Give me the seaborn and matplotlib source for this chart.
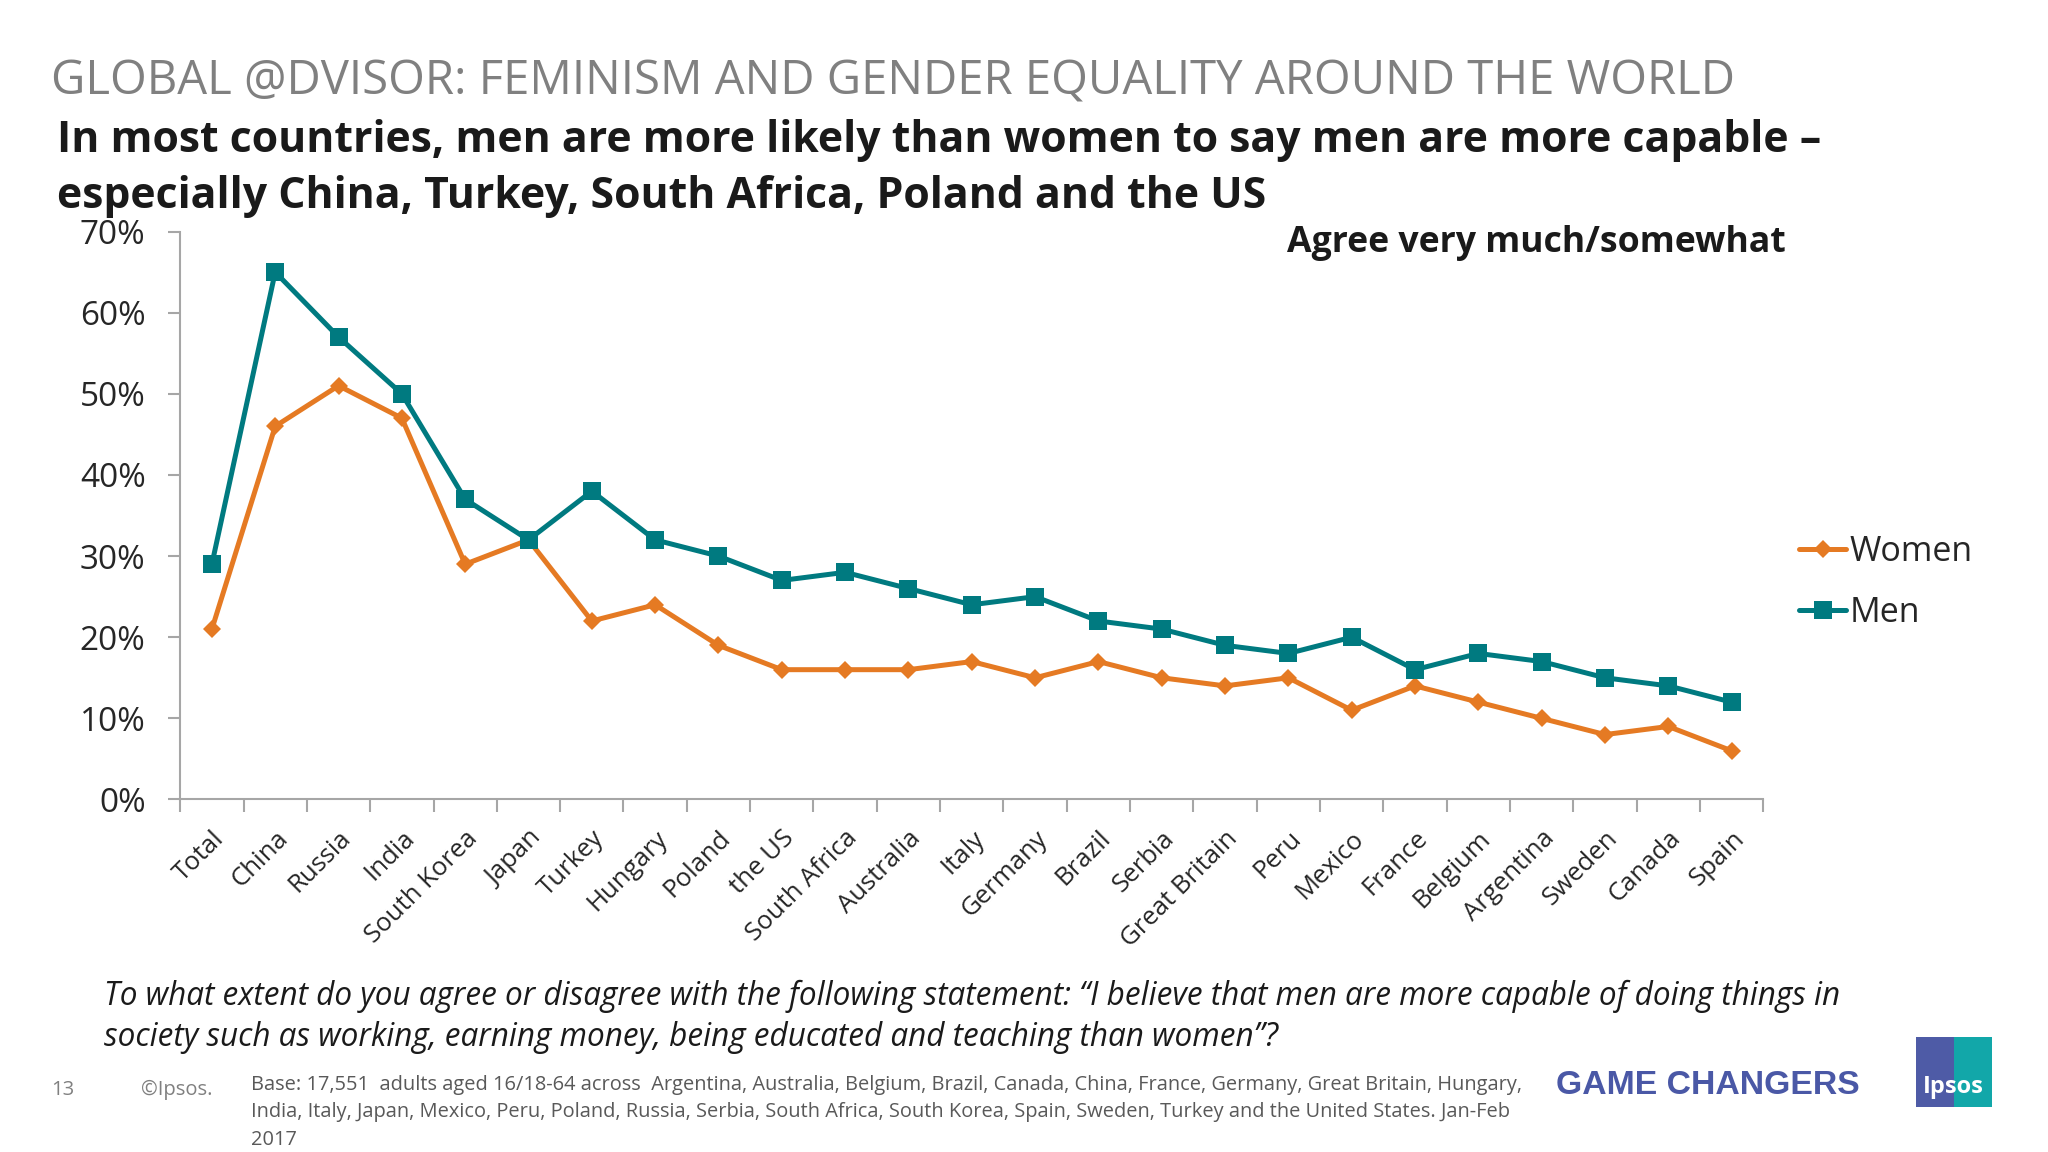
import seaborn as sns
import pandas as pd
import matplotlib.pyplot as plt
from matplotlib.patches import Rectangle
from matplotlib.ticker import FixedLocator, PercentFormatter

countries = ['Total', 'China', 'Russia', 'India', 'South Korea', 'Japan', 'Turkey', 'Hungary',
             'Poland', 'the US', 'South Africa', 'Australia', 'Italy', 'Germany', 'Brazil', 'Serbia',
             'Great Britain', 'Peru', 'Mexico', 'France', 'Belgium', 'Argentina', 'Sweden', 'Canada', 'Spain']
women = [21, 46, 51, 47, 29, 32, 22, 24, 19, 16, 16, 16, 17, 15, 17, 15, 14, 15, 11, 14, 12, 10, 8, 9, 6]
men = [29, 65, 57, 50, 37, 32, 38, 32, 30, 27, 28, 26, 24, 25, 22, 21, 19, 18, 20, 16, 18, 17, 15, 14, 12]
yticks = [0, 10, 20, 30, 40, 50, 60, 70]

df = pd.DataFrame({'Country': countries * 2,
                   'pos': list(range(len(countries))) * 2,
                   'Share': women + men,
                   'Gender': ['Women'] * len(countries) + ['Men'] * len(countries)})

sns.set_style('white')
plt.rcParams['font.family'] = ['Open Sans', 'DejaVu Sans']

orange = '#E57A23'
teal = '#007A80'
axis_grey = '#A6A6A6'

fig = plt.figure(figsize=(20.48, 11.52), dpi=100)
ax = fig.add_axes([0.088, 0.306, 0.773, 0.493])

sns.lineplot(data=df, x='pos', y='Share', hue='Gender', style='Gender',
             hue_order=['Women', 'Men'], palette={'Women': orange, 'Men': teal},
             markers={'Women': 'D', 'Men': 's'}, dashes=False, linewidth=3.6,
             markeredgewidth=0, ax=ax)
for line in ax.lines:
    line.set_markersize(9 if line.get_color() == orange else 12.5)

ax.set_xlim(-0.5, len(countries) - 0.5)
ax.set_ylim(0, 70)
ax.set_yticks(yticks)
ax.yaxis.set_major_formatter(PercentFormatter(decimals=0))
ax.set_xticks(range(len(countries)))
ax.set_xticklabels(countries, rotation=45, ha='right', rotation_mode='anchor', fontsize=18.5)
ax.xaxis.set_minor_locator(FixedLocator([i - 0.5 for i in range(len(countries) + 1)]))
ax.tick_params(axis='x', which='major', length=0, pad=19)
ax.tick_params(axis='x', which='minor', length=9, width=1.5, color=axis_grey, bottom=True)
ax.tick_params(axis='y', length=9, width=1.5, color=axis_grey, labelsize=24, pad=16, left=True)
ax.set_xlabel('')
ax.set_ylabel('')
for side in ['top', 'right']:
    ax.spines[side].set_visible(False)
for side in ['left', 'bottom']:
    ax.spines[side].set_color(axis_grey)
    ax.spines[side].set_linewidth(1.5)

leg = ax.legend(loc='center left', bbox_to_anchor=(1.003, 0.382), frameon=False, fontsize=24.5,
                handlelength=1.4, handletextpad=0.1, labelspacing=0.8)

ax.text(1.014, 0.979, 'Agree very much/somewhat', transform=ax.transAxes, ha='right', va='center',
        fontsize=25.7, fontweight='bold', color='#1A1A1A')

fig.text(0.025, 0.929, 'GLOBAL @DVISOR: FEMINISM AND GENDER EQUALITY AROUND THE WORLD',
         fontsize=34, color='#808080', va='center')
fig.text(0.028, 0.878, 'In most countries, men are more likely than women to say men are more capable \u2013',
         fontsize=30.8, fontweight='bold', color='#1A1A1A', va='center')
fig.text(0.028, 0.829, 'especially China, Turkey, South Africa, Poland and the US',
         fontsize=30.8, fontweight='bold', color='#1A1A1A', va='center')

fig.text(0.051, 0.135, 'To what extent do you agree or disagree with the following statement: \u201cI believe that men are more capable of doing things in',
         fontsize=22.7, style='italic', color='#1A1A1A', va='center')
fig.text(0.051, 0.099, 'society such as working, earning money, being educated and teaching than women\u201d?',
         fontsize=22.7, style='italic', color='#1A1A1A', va='center')

fig.text(0.025, 0.054, '13', fontsize=14.5, color='#808080', va='center')
fig.text(0.069, 0.054, '\u00a9Ipsos.', fontsize=14.5, color='#808080', va='center')
fig.text(0.1225, 0.067,
         'Base: 17,551  adults aged 16/18-64 across  Argentina, Australia, Belgium, Brazil, Canada, China, France, Germany, Great Britain, Hungary,\n'
         'India, Italy, Japan, Mexico, Peru, Poland, Russia, Serbia, South Africa, South Korea, Spain, Sweden, Turkey and the United States. Jan-Feb\n'
         '2017',
         fontsize=14.4, color='#595959', va='top', linespacing=1.5)
fig.text(0.834, 0.058, 'GAME CHANGERS', fontsize=24.3, fontweight='bold', color='#4A58A6',
         family='Liberation Sans', ha='center', va='center')

fig.add_artist(Rectangle((0.9355, 0.039), 0.0185, 0.061, transform=fig.transFigure,
                         facecolor='#4E5BA6', edgecolor='none'))
fig.add_artist(Rectangle((0.954, 0.039), 0.0187, 0.061, transform=fig.transFigure,
                         facecolor='#12A7A9', edgecolor='none'))
fig.text(0.954, 0.056, 'Ipsos', fontsize=17, fontweight='bold', color='white', ha='center', va='center')

fig.savefig('out.png', dpi=100, facecolor='white')
